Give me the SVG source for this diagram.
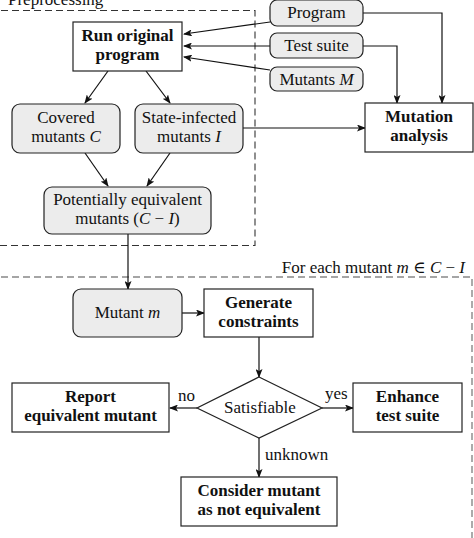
<svg xmlns="http://www.w3.org/2000/svg" width="474" height="538" viewBox="0 0 474 538">
<defs>
<marker id="ah" markerWidth="9" markerHeight="7" refX="8" refY="3.5" orient="auto" markerUnits="userSpaceOnUse">
<path d="M0,0 L9,3.5 L0,7 L2,3.5 z" fill="#111"/>
</marker>
<style>
text{font-family:"Liberation Serif","Times New Roman",Tinos,"DejaVu Serif",serif;font-size:17px;font-weight:normal;fill:#111}
tspan{font-family:"Liberation Serif","Times New Roman",Tinos,"DejaVu Serif",serif}
.b{font-weight:bold}
.m{text-anchor:middle}
.i{font-style:italic}
.box{fill:#fff;stroke:#222;stroke-width:1.2}
.gbox{fill:#ececec;stroke:#222;stroke-width:1.2}
.edge{fill:none;stroke:#111;stroke-width:1.2}
.arr{fill:none;stroke:#111;stroke-width:1.2;marker-end:url(#ah)}
.dash1{fill:none;stroke:#333;stroke-width:1.1;stroke-dasharray:7,4}
.dash2{fill:none;stroke:#888;stroke-width:1.4;stroke-dasharray:7,4}
</style>
</defs>
<rect width="474" height="538" fill="#fff"/>

<g id="preprocessing">
<rect class="dash1" x="-10" y="10.5" width="265" height="235"/>
<text x="8" y="5">Preprocessing</text>
</g>
<g id="loop">
<rect class="dash2" x="-10" y="277" width="482" height="300"/>
<text x="465" y="273" style="text-anchor:end">For each mutant <tspan class="i">m</tspan> ∈ <tspan class="i">C</tspan> − <tspan class="i">I</tspan></text>
</g>

<g id="connectors">
<path class="arr" d="M270,22 L184,34"/>
<path class="arr" d="M270,46 L184,46"/>
<path class="arr" d="M270,70 L184,57"/>
<path class="arr" d="M363,13 H442 V103"/>
<path class="arr" d="M363,46 H397 V103"/>
<path class="arr" d="M243,128 H365"/>
<path class="arr" d="M108,71 L85,103"/>
<path class="arr" d="M146,71 L170,103"/>
<path class="arr" d="M85,153 L108,186"/>
<path class="arr" d="M170,153 L147,186"/>
<path class="arr" d="M128,234 V289"/>
<path class="arr" d="M182,313 H204"/>
<path class="arr" d="M259,337 V377"/>
<path class="arr" d="M197,408 H170"/>
<path class="arr" d="M322,408 H353"/>
<path class="arr" d="M259,438 V477"/>
<text x="178" y="401">no</text>
<text x="325" y="399">yes</text>
<text x="265" y="460">unknown</text>
</g>

<g id="run-original">
<rect class="box" x="73" y="22" width="109" height="49"/>
<text class="b m" x="127.5" y="41">Run original</text>
<text class="b m" x="127.5" y="60">program</text>
</g>
<g id="program">
<rect class="gbox" x="270" y="0" width="93" height="26" rx="7"/>
<text class="m" x="316.5" y="18">Program</text>
</g>
<g id="test-suite">
<rect class="gbox" x="270" y="33" width="93" height="25" rx="7"/>
<text class="m" x="316.5" y="51">Test suite</text>
</g>
<g id="mutants-M">
<rect class="gbox" x="270" y="67" width="93" height="24" rx="7"/>
<text class="m" x="316.5" y="85">Mutants <tspan class="i">M</tspan></text>
</g>
<g id="mutation-analysis">
<rect class="box" x="365" y="103" width="108" height="49"/>
<text class="b m" x="419" y="122">Mutation</text>
<text class="b m" x="419" y="141">analysis</text>
</g>
<g id="covered">
<rect class="gbox" x="12" y="104" width="108" height="49" rx="8"/>
<text class="m" x="66" y="123">Covered</text>
<text class="m" x="66" y="142">mutants <tspan class="i">C</tspan></text>
</g>
<g id="state-infected">
<rect class="gbox" x="135" y="104" width="108" height="49" rx="8"/>
<text class="m" x="189" y="123">State-infected</text>
<text class="m" x="189" y="142">mutants <tspan class="i">I</tspan></text>
</g>
<g id="potentially-equivalent">
<rect class="gbox" x="44" y="187" width="167" height="47" rx="8"/>
<text class="m" x="127.5" y="205">Potentially equivalent</text>
<text class="m" x="127.5" y="224">mutants (<tspan class="i">C</tspan> − <tspan class="i">I</tspan>)</text>
</g>
<g id="mutant-m">
<rect class="gbox" x="73" y="289" width="109" height="48" rx="8"/>
<text class="m" x="127.5" y="318">Mutant <tspan class="i">m</tspan></text>
</g>
<g id="generate-constraints">
<rect class="box" x="204" y="289" width="109" height="48"/>
<text class="b m" x="258.5" y="307.5">Generate</text>
<text class="b m" x="258.5" y="326.5">constraints</text>
</g>
<g id="satisfiable">
<path class="box" d="M259,377 L322,408 L259,438 L197,408 z"/>
<text class="m" x="260" y="413">Satisfiable</text>
</g>
<g id="report-equivalent">
<rect class="box" x="12" y="383" width="157" height="49"/>
<text class="b m" x="90.5" y="402">Report</text>
<text class="b m" x="90.5" y="421">equivalent mutant</text>
</g>
<g id="enhance-test-suite">
<rect class="box" x="353" y="383" width="109" height="49"/>
<text class="b m" x="407.5" y="402">Enhance</text>
<text class="b m" x="407.5" y="421">test suite</text>
</g>
<g id="consider-not-equivalent">
<rect class="box" x="181" y="477" width="156" height="49"/>
<text class="b m" x="259" y="496">Consider mutant</text>
<text class="b m" x="259" y="515">as not equivalent</text>
</g>
</svg>
